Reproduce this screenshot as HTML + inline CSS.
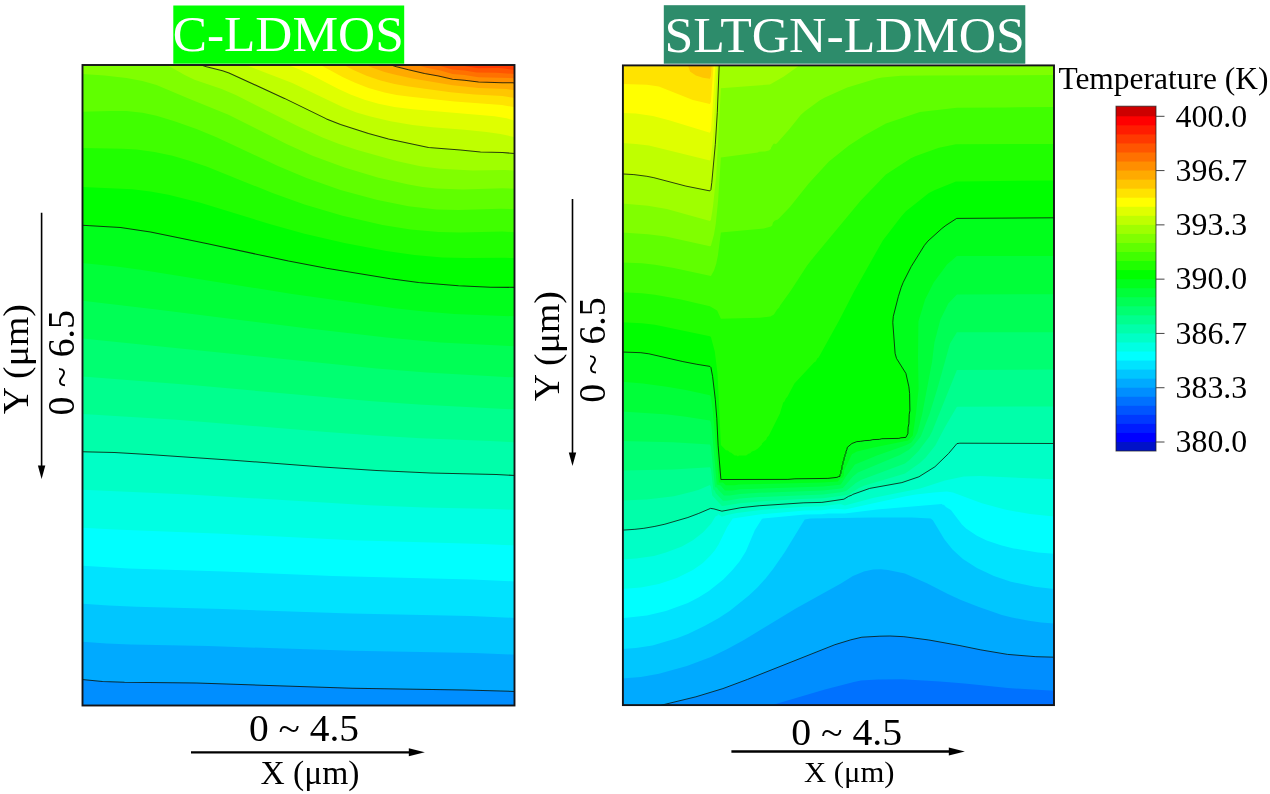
<!DOCTYPE html>
<html><head><meta charset="utf-8"><title>Temperature distribution</title>
<style>html,body{margin:0;padding:0;background:#fff}svg{display:block}</style></head>
<body>
<svg width="1270" height="794" viewBox="0 0 1270 794">
<defs>
<clipPath id="clipL"><rect x="82.5" y="65" width="432" height="640.5"/></clipPath>
<clipPath id="clipR"><rect x="622.9" y="65.4" width="431.1" height="639.7"/></clipPath>
</defs>
<rect width="1270" height="794" fill="#fff"/>
<rect x="173.3" y="5.5" width="230.9" height="58.2" fill="#00ff00"/>
<text x="172.7" y="51.3" font-size="51" fill="#fff" textLength="231" lengthAdjust="spacingAndGlyphs" font-family="'Liberation Serif',serif">C-LDMOS</text>
<rect x="663.8" y="5.2" width="361.5" height="58.5" fill="#2d8c6b"/>
<text x="664.5" y="51.5" font-size="51" fill="#fff" textLength="360.3" lengthAdjust="spacingAndGlyphs" font-family="'Liberation Serif',serif">SLTGN-LDMOS</text>
<g clip-path="url(#clipL)">
<rect x="81.5" y="64" width="434" height="642.5" fill="#ff1c00"/>
<path fill-rule="evenodd" d="M82.5 63.0L516.5 63.3L516.5 707.0L80.5 707.0L80.5 63.0Z" fill="#ff3900"/>
<path fill-rule="evenodd" d="M82.5 63.0L446.4 63.0L453.2 65.0L464.5 66.0L478.5 68.3L498.5 68.1L506.5 68.8L514.5 70.3L516.5 70.1L516.5 707.0L80.5 707.0L80.5 63.0Z" fill="#ff5500"/>
<path fill-rule="evenodd" d="M82.5 63.0L429.4 63.0L452.5 69.4L464.5 70.4L476.5 72.5L496.5 72.8L516.5 74.1L516.5 707.0L80.5 707.0L80.5 63.0Z" fill="#ff7100"/>
<path fill-rule="evenodd" d="M82.5 63.0L410.2 63.0L426.5 67.8L440.5 70.6L452.5 74.0L464.5 74.9L478.5 77.2L516.5 78.2L516.5 707.0L80.5 707.0L80.5 63.0Z" fill="#ff8e00"/>
<path fill-rule="evenodd" d="M82.5 63.0L385.1 63.0L408.5 69.8L452.5 79.2L478.5 82.1L516.5 83.2L516.5 707.0L80.5 707.0L80.5 63.0Z" fill="#ffaa00"/>
<path fill-rule="evenodd" d="M82.5 63.0L361.6 63.0L372.5 67.7L384.5 71.9L396.5 75.1L412.5 78.4L452.5 85.2L478.5 87.9L506.5 89.0L516.5 90.5L516.5 707.0L80.5 707.0L80.5 63.0Z" fill="#ffc600"/>
<path fill-rule="evenodd" d="M82.5 63.0L340.0 63.0L354.5 70.6L366.5 75.8L380.5 80.6L394.5 84.0L408.5 86.4L450.5 92.2L474.5 94.4L502.5 96.1L516.5 98.2L516.5 707.0L80.5 707.0L80.5 63.0Z" fill="#ffe300"/>
<path fill-rule="evenodd" d="M82.5 63.0L316.8 63.0L342.5 76.9L354.5 82.6L368.5 88.1L384.5 92.5L396.5 94.9L410.5 96.8L454.5 101.5L501.9 105.0L516.5 107.5L516.5 707.0L80.5 707.0L80.5 63.0Z" fill="#ffff00"/>
<path fill-rule="evenodd" d="M82.5 63.0L282.4 63.0L296.5 68.3L310.5 74.4L338.5 89.0L350.5 94.5L364.5 99.8L378.5 103.7L394.5 106.9L412.5 109.3L494.5 116.3L506.5 118.3L516.5 121.1L516.5 707.0L80.5 707.0L80.5 63.0Z" fill="#dfff00"/>
<path fill-rule="evenodd" d="M82.5 63.0L240.6 63.0L292.3 83.0L342.5 107.1L356.5 112.4L370.5 116.6L390.5 121.3L412.5 124.9L432.5 127.3L464.5 129.7L486.5 131.9L500.5 134.1L516.5 137.5L516.5 707.0L80.5 707.0L80.5 63.0Z" fill="#bfff00"/>
<path fill-rule="evenodd" d="M82.5 63.0L197.0 63.0L204.5 66.1L228.5 72.8L273.0 93.0L330.5 120.6L348.5 127.4L370.5 134.2L394.5 140.2L430.5 147.7L458.5 149.7L480.5 151.9L500.5 152.4L516.5 153.7L516.5 707.0L80.5 707.0L80.5 63.0Z" fill="#9fff00"/>
<path fill-rule="evenodd" d="M82.5 63.0L162.3 63.0L168.5 65.8L184.7 75.0L194.5 79.8L221.7 89.0L235.8 95.0L298.5 126.5L322.5 137.6L338.5 143.7L356.5 149.8L396.5 161.0L420.5 166.2L440.5 168.8L472.5 170.4L504.5 170.0L516.5 170.5L516.5 707.0L80.5 707.0L80.5 63.0Z" fill="#80ff00"/>
<path fill-rule="evenodd" d="M82.5 74.0L104.5 75.5L126.5 78.0L142.5 80.9L156.5 84.9L188.5 98.6L228.5 114.7L286.5 143.9L312.5 155.7L344.5 167.6L378.5 177.7L408.5 184.6L422.5 186.9L436.5 188.4L462.5 189.5L502.5 188.3L516.5 188.7L516.5 707.0L80.5 707.0L80.5 73.8Z" fill="#60ff00"/>
<path fill-rule="evenodd" d="M110.5 111.0L126.5 111.1L142.5 112.8L156.5 115.7L174.5 121.2L196.5 129.1L216.5 137.2L278.5 166.2L306.5 178.0L340.5 189.9L376.5 199.8L408.5 206.3L436.5 209.4L458.5 210.0L500.5 208.7L516.5 209.2L516.5 707.0L80.5 707.0L80.5 111.9Z" fill="#40ff00"/>
<path fill-rule="evenodd" d="M82.5 148.0L122.5 148.8L136.5 149.5L154.5 151.9L172.5 155.8L188.5 160.4L206.5 166.6L272.5 193.0L304.5 204.5L342.5 215.8L382.5 225.0L410.5 229.6L438.5 232.1L460.5 232.6L502.5 231.6L516.5 232.2L516.5 707.0L80.5 707.0L80.5 147.9Z" fill="#20ff00"/>
<path fill-rule="evenodd" d="M82.5 187.0L132.5 189.2L150.5 191.4L168.5 194.7L200.5 202.8L270.5 224.2L304.5 233.7L344.5 243.1L386.5 251.1L414.5 255.0L442.5 257.4L466.5 258.1L504.5 257.8L516.5 258.1L516.5 707.0L80.5 707.0L80.5 186.9Z" fill="#00ff00"/>
<path fill-rule="evenodd" d="M82.5 225.3L116.5 227.2L144.5 231.1L172.5 236.4L298.5 263.1L338.5 270.4L392.5 279.1L422.5 282.8L454.5 285.5L490.5 287.2L516.5 287.4L516.5 707.0L80.5 707.0L80.5 225.1Z" fill="#00ff1c"/>
<path fill-rule="evenodd" d="M81.9 263.0L116.5 266.6L140.5 269.7L290.5 293.7L394.5 308.2L424.5 311.5L454.5 313.9L516.5 316.4L516.5 707.0L80.5 707.0L80.5 262.9Z" fill="#00ff39"/>
<path fill-rule="evenodd" d="M82.5 300.8L154.5 309.3L304.5 328.1L386.5 337.6L440.5 342.4L516.5 346.4L516.5 707.0L80.5 707.0L80.5 300.6Z" fill="#00ff55"/>
<path fill-rule="evenodd" d="M82.5 338.6L376.5 368.5L426.5 372.4L516.5 377.5L516.5 707.0L80.5 707.0L80.5 338.4Z" fill="#00ff71"/>
<path fill-rule="evenodd" d="M82.5 376.4L194.5 385.3L372.5 401.3L418.5 404.4L516.5 409.5L516.5 707.0L80.5 707.0L80.5 376.2Z" fill="#00ff8e"/>
<path fill-rule="evenodd" d="M82.5 414.1L176.5 419.7L326.5 432.1L374.5 435.6L420.5 438.2L490.5 440.9L516.5 442.4L516.5 707.0L80.5 707.0L80.5 414.0Z" fill="#00ffaa"/>
<path fill-rule="evenodd" d="M82.5 451.9L118.5 452.7L154.5 454.8L242.5 460.8L326.5 467.4L378.5 470.6L440.5 473.4L516.5 475.5L516.5 707.0L80.5 707.0L80.5 451.8Z" fill="#00ffc6"/>
<path fill-rule="evenodd" d="M82.5 489.8L188.5 494.4L368.5 505.2L424.5 507.4L494.5 509.0L516.5 510.0L516.5 707.0L80.5 707.0L80.5 489.7Z" fill="#00ffe3"/>
<path fill-rule="evenodd" d="M82.5 527.8L114.5 529.6L222.5 533.8L352.5 540.3L482.5 543.9L516.5 545.5L516.5 707.0L80.5 707.0L80.5 527.6Z" fill="#00ffff"/>
<path fill-rule="evenodd" d="M82.5 565.7L128.5 568.5L224.5 571.6L332.5 575.9L472.5 579.5L516.5 581.5L516.5 707.0L80.5 707.0L80.5 565.6Z" fill="#00e3ff"/>
<path fill-rule="evenodd" d="M82.5 603.7L108.5 605.6L136.5 606.8L222.5 609.1L350.5 613.4L470.5 615.9L516.5 618.0L516.5 707.0L80.5 707.0L80.5 603.5Z" fill="#00c6ff"/>
<path fill-rule="evenodd" d="M82.5 641.7L106.5 643.5L130.5 644.6L208.5 646.1L352.5 650.8L474.5 653.0L516.5 654.7L516.5 707.0L80.5 707.0L80.5 641.5Z" fill="#00aaff"/>
<path fill-rule="evenodd" d="M82.5 679.6L102.5 681.4L124.5 682.3L190.5 682.8L342.5 688.0L474.5 690.2L516.5 691.5L516.5 707.0L80.5 707.0L80.5 679.4Z" fill="#008eff"/>
<path d="M516.5 691.5L464.5 690.0L352.5 688.3L196.5 683.0L124.5 682.3L102.5 681.4L80.5 679.4" fill="none" stroke="#0a140a" stroke-opacity="0.82" stroke-width="1.05" stroke-linejoin="round"/>
<path d="M516.5 475.5L496.5 474.6L430.5 473.0L376.5 470.5L322.5 467.1L236.5 460.4L148.5 454.4L114.5 452.6L80.5 451.8" fill="none" stroke="#0a140a" stroke-opacity="0.82" stroke-width="1.05" stroke-linejoin="round"/>
<path d="M516.5 287.4L490.5 287.2L458.5 285.7L418.5 282.4L390.5 278.8L326.5 268.3L288.5 261.1L206.5 243.5L150.5 232.1L120.5 227.6L80.5 225.1" fill="none" stroke="#0a140a" stroke-opacity="0.82" stroke-width="1.05" stroke-linejoin="round"/>
<path d="M516.5 153.7L502.5 152.5L480.5 151.9L460.5 149.9L428.5 147.4L388.5 138.9L368.5 133.6L340.5 124.5L326.5 118.9L284.5 98.4L229.0 73.0L222.5 70.8L206.5 66.7L200.5 64.7L197.0 63.0" fill="none" stroke="#0a140a" stroke-opacity="0.82" stroke-width="1.05" stroke-linejoin="round"/>
<path d="M516.5 83.2L512.5 82.7L502.5 82.8L478.5 82.1L464.5 80.3L452.5 79.2L438.5 75.9L424.5 73.5L408.5 69.8L396.5 66.7L385.1 63.0" fill="none" stroke="#0a140a" stroke-opacity="0.82" stroke-width="1.05" stroke-linejoin="round"/>
</g>
<rect x="82.5" y="65" width="432" height="640.5" fill="none" stroke="#141418" stroke-width="1.9"/>
<g clip-path="url(#clipR)">
<rect x="621.9" y="64.4" width="433.1" height="641.7" fill="#ffc600"/>
<path fill-rule="evenodd" d="M622.9 64.4L684.3 64.4L688.0 65.4L690.0 71.4L695.9 75.4L702.9 77.8L709.9 78.8L710.9 76.1L711.6 65.4L707.5 64.4L1054.9 64.4L1054.9 705.4L621.9 705.4L621.9 64.4Z" fill="#ffe300"/>
<path fill-rule="evenodd" d="M711.9 64.4L1054.9 64.4L1054.9 705.4L621.9 705.4L621.9 83.9L646.9 84.8L658.9 86.4L692.9 100.1L709.9 103.9L710.9 101.8L713.5 65.4Z" fill="#ffff00"/>
<path fill-rule="evenodd" d="M715.9 64.4L1054.9 64.4L1054.9 705.4L621.9 705.4L621.9 113.0L635.9 113.6L652.9 115.9L669.9 120.5L709.9 132.8L710.9 130.8L711.3 126.4L715.4 65.4Z" fill="#dfff00"/>
<path fill-rule="evenodd" d="M717.9 65.0L719.6 64.4L1054.9 64.4L1054.9 705.4L621.9 705.4L621.9 143.1L635.9 144.0L648.9 145.6L709.9 160.6L710.9 159.1L713.3 134.4L717.2 66.4Z" fill="#bfff00"/>
<path fill-rule="evenodd" d="M719.9 65.1L723.7 64.4L1054.9 64.4L1054.9 705.4L621.9 705.4L621.9 173.9L635.9 174.8L648.9 176.6L686.9 186.3L709.9 190.9L710.9 189.5L711.8 182.4L714.8 151.4L717.3 111.4L719.2 65.4Z" fill="#9fff00"/>
<path fill-rule="evenodd" d="M799.9 64.4L1054.9 64.4L1054.9 705.4L621.9 705.4L621.9 203.6L647.9 205.8L666.9 208.9L709.9 220.9L710.9 220.0L713.0 206.4L716.2 175.4L720.9 88.2L769.9 84.5L783.9 76.4L797.9 66.4Z" fill="#80ff00"/>
<path fill-rule="evenodd" d="M928.9 75.4L1054.9 75.1L1054.9 705.4L621.9 705.4L621.9 232.5L647.9 234.3L665.9 236.4L709.9 246.2L710.9 245.8L714.0 234.4L715.8 223.4L718.1 200.4L720.9 157.5L757.9 152.4L758.9 151.7L764.9 151.5L768.9 150.5L770.9 149.1L771.1 147.4L773.0 144.4L773.9 143.6L775.9 144.0L776.9 143.2L789.1 129.4L800.9 114.8L804.9 111.3L819.9 100.3L824.9 97.5L847.2 87.4L876.9 78.4L882.2 77.4L900.9 75.8Z" fill="#60ff00"/>
<path fill-rule="evenodd" d="M1005.9 107.4L1054.9 107.1L1054.9 705.4L621.9 705.4L621.9 262.4L641.9 263.3L654.9 264.7L673.9 268.1L710.9 276.1L714.0 270.4L716.3 263.4L717.9 255.4L720.9 232.5L763.9 228.5L770.9 226.6L772.2 225.4L773.0 222.4L774.9 220.5L777.9 219.6L789.9 207.0L808.9 183.2L828.9 161.4L848.9 145.4L863.9 135.8L885.9 123.6L919.9 112.1L956.9 107.8Z" fill="#40ff00"/>
<path fill-rule="evenodd" d="M955.9 144.2L1054.9 143.9L1054.9 705.4L621.9 705.4L621.9 292.3L641.9 293.2L654.9 294.7L679.9 299.3L709.9 306.3L717.1 310.4L720.9 318.7L759.9 317.8L770.4 316.4L773.9 314.5L777.1 309.4L779.2 307.4L780.1 305.4L790.9 290.6L807.1 265.4L811.0 260.4L860.8 200.4L885.9 174.5L910.9 158.3L915.9 156.0L938.9 147.8Z" fill="#20ff00"/>
<path fill-rule="evenodd" d="M959.9 181.4L1054.9 180.5L1054.9 705.4L621.9 705.4L621.9 322.3L641.9 323.2L654.9 324.8L709.9 336.3L710.9 337.1L714.8 351.4L717.6 374.4L720.9 445.0L725.9 450.3L727.9 450.5L729.9 452.5L730.9 452.5L734.7 455.4L736.9 455.5L737.9 456.4L738.9 455.4L746.1 455.4L748.9 453.4L749.9 453.4L751.9 451.5L754.9 450.4L757.9 448.4L761.9 444.4L761.9 443.4L766.3 439.4L767.0 437.4L768.9 435.6L779.9 413.5L783.2 402.4L784.5 401.4L785.8 398.4L787.5 396.4L794.4 383.4L814.0 362.4L815.9 361.2L817.2 358.4L818.6 357.4L839.1 320.4L853.5 292.4L882.8 240.4L901.2 216.4L905.9 211.3L928.9 192.9L934.9 189.9L955.9 181.5Z" fill="#00ff00"/>
<path fill-rule="evenodd" d="M956.9 218.3L1054.9 217.8L1054.9 705.4L621.9 705.4L621.9 352.0L635.9 352.4L647.9 353.6L686.7 362.4L709.9 366.4L710.9 367.5L713.5 383.4L715.3 399.4L718.2 447.4L720.9 479.5L788.1 479.4L798.9 478.7L828.0 478.4L837.1 477.4L839.9 476.4L840.1 474.4L840.9 473.4L841.0 470.4L841.9 469.4L843.1 461.4L843.9 460.4L844.2 457.4L845.9 453.4L847.3 447.4L851.9 443.5L856.9 441.6L863.9 440.6L881.9 438.7L898.9 438.4L905.9 437.4L907.9 433.7L909.9 410.6L909.6 392.4L908.9 386.8L905.9 373.4L896.5 358.4L895.1 353.4L892.8 322.4L893.3 316.4L895.4 307.4L899.3 293.4L903.2 282.4L912.4 264.4L924.4 245.4L928.5 240.4L941.9 228.5Z" fill="#00ff1c"/>
<path fill-rule="evenodd" d="M956.9 256.1L1054.9 256.0L1054.9 705.4L621.9 705.4L621.9 381.7L642.9 383.6L666.9 386.8L685.9 390.1L709.9 395.2L710.9 396.7L713.0 412.4L718.9 482.5L722.9 482.5L725.9 485.2L734.9 485.2L738.9 484.6L822.9 482.5L837.9 481.4L839.9 478.7L842.5 477.4L843.9 475.4L844.0 470.4L851.9 454.3L856.9 451.6L873.6 447.4L908.1 440.4L912.8 435.4L916.2 411.4L918.6 388.4L918.0 357.4L918.4 321.4L925.1 299.4L933.7 282.4L947.0 264.4Z" fill="#00ff39"/>
<path fill-rule="evenodd" d="M956.9 294.4L1054.9 294.3L1054.9 705.4L621.9 705.4L621.9 411.4L667.9 414.5L685.9 416.7L709.9 420.5L710.9 422.2L711.7 428.4L716.8 484.4L720.7 485.4L724.9 490.4L732.9 490.4L739.9 489.2L822.9 486.5L839.9 484.8L840.9 484.2L845.9 476.4L854.9 464.6L876.9 455.6L905.9 445.3L911.3 442.4L914.8 437.4L917.4 432.4L922.1 414.4L932.1 361.4L934.4 342.4L940.4 319.4L948.3 303.4Z" fill="#00ff55"/>
<path fill-rule="evenodd" d="M956.9 332.3L1054.9 332.2L1054.9 705.4L621.9 705.4L621.9 441.0L672.9 442.3L709.9 444.5L710.9 446.5L714.9 486.4L715.9 487.4L717.0 487.4L718.0 489.4L723.9 495.6L729.9 495.6L739.9 493.9L758.9 492.8L822.9 490.5L838.9 488.8L842.9 487.9L852.9 476.6L857.9 472.4L899.9 455.0L908.9 449.7L913.6 445.4L920.8 436.4L929.7 413.4L937.4 388.4L950.0 343.4Z" fill="#00ff71"/>
<path fill-rule="evenodd" d="M956.9 369.9L1054.9 369.6L1054.9 705.4L621.9 705.4L621.9 470.6L672.9 469.5L709.9 467.2L710.9 468.8L713.3 489.4L714.8 490.4L715.9 493.3L722.9 500.8L726.9 500.8L739.9 498.5L758.9 497.1L822.9 494.4L840.9 492.3L844.9 491.3L846.7 490.4L855.9 482.9L860.9 480.0L905.0 463.4L910.0 459.4L918.1 451.4L929.5 436.4L932.1 431.4Z" fill="#00ff8e"/>
<path fill-rule="evenodd" d="M956.9 406.7L1054.9 406.5L1054.9 705.4L621.9 705.4L621.9 500.5L646.5 499.4L673.9 496.2L692.9 491.6L698.9 489.7L709.9 485.0L710.9 486.8L712.3 495.4L721.9 505.9L722.9 506.1L739.9 503.2L759.9 501.4L800.9 499.0L822.9 498.3L846.9 495.1L848.9 494.4L858.9 487.9L863.9 485.8L905.1 473.4L919.9 463.0L925.7 457.4L935.3 445.4L944.9 427.2Z" fill="#00ffaa"/>
<path fill-rule="evenodd" d="M957.9 443.4L1054.9 443.5L1054.9 705.4L621.9 705.4L621.9 530.2L646.9 527.9L664.9 524.2L687.9 517.5L710.9 508.3L721.9 511.2L740.9 507.7L759.9 505.7L800.9 502.9L822.9 502.3L842.9 499.5L852.9 494.4L869.7 488.4L900.9 482.8L918.9 476.8L934.9 466.8L947.8 454.4L955.9 444.4Z" fill="#00ffc6"/>
<path fill-rule="evenodd" d="M963.9 476.4L979.9 476.1L1054.9 479.4L1054.9 705.4L621.9 705.4L621.9 559.5L635.9 558.6L653.9 555.9L665.9 552.6L681.9 546.4L692.9 540.3L702.9 532.6L711.2 523.4L715.4 516.4L717.7 515.4L717.9 514.1L721.9 516.7L726.9 514.9L736.9 513.1L760.9 509.9L804.9 506.7L821.9 506.3L837.9 504.2L840.9 504.3L844.9 505.5L873.9 497.8L920.2 488.4L944.9 480.6Z" fill="#00ffe3"/>
<path fill-rule="evenodd" d="M933.9 492.4L946.9 491.6L952.9 492.5L981.9 503.2L1004.9 509.6L1029.9 514.1L1054.9 516.6L1054.9 705.4L621.9 705.4L621.9 588.9L640.9 587.4L658.9 583.9L676.9 577.9L692.9 570.0L702.9 563.0L710.9 555.1L714.7 550.4L718.6 544.4L726.9 527.4L732.7 518.4L760.9 514.3L790.9 511.7L804.9 510.6L821.9 510.3L833.9 508.8L844.9 509.5L904.4 496.4L915.9 494.4Z" fill="#00ffff"/>
<path fill-rule="evenodd" d="M935.9 504.4L941.9 504.1L942.9 505.0L943.9 504.8L945.9 507.1L950.9 509.9L961.9 524.6L966.1 528.4L976.9 535.8L986.7 540.4L1000.9 545.3L1013.6 548.4L1037.9 552.4L1054.9 553.7L1054.9 705.4L621.9 705.4L621.9 618.3L646.9 615.5L665.9 611.0L687.9 602.9L698.9 597.3L708.9 591.1L723.3 579.4L732.0 570.4L739.5 561.4L745.8 551.4L754.9 529.9L761.9 519.1L763.0 518.4L804.9 514.6L821.9 514.2L827.9 513.5L844.9 513.5L877.0 509.4Z" fill="#00e3ff"/>
<path fill-rule="evenodd" d="M872.9 517.4L911.9 517.4L930.7 518.4L932.9 520.3L944.5 539.4L952.5 549.4L962.9 559.0L976.9 568.1L993.9 576.0L1010.9 581.7L1034.9 586.7L1054.9 589.0L1054.9 705.4L621.9 705.4L621.9 649.0L635.9 647.9L652.4 645.4L676.9 638.2L687.9 634.0L704.9 625.8L718.9 617.9L729.9 610.7L748.9 595.5L757.4 587.4L765.6 578.4L773.4 568.4L784.5 552.4L804.7 519.4L810.3 518.4Z" fill="#00c6ff"/>
<path fill-rule="evenodd" d="M872.9 569.4L880.9 569.2L887.9 570.0L904.9 573.6L927.4 583.4L947.9 594.0L960.9 599.9L978.9 607.1L1001.9 614.9L1011.9 617.5L1028.9 620.7L1040.9 622.5L1054.9 623.6L1054.9 705.4L621.9 705.4L621.9 678.4L640.9 676.9L658.9 673.8L686.9 666.0L710.9 656.9L726.9 649.2L743.9 639.9L795.8 608.4L840.9 583.4L852.9 576.1L863.9 571.4Z" fill="#00aaff"/>
<path fill-rule="evenodd" d="M874.9 636.4L891.9 636.0L903.9 636.7L933.9 640.8L982.9 650.3L1005.9 654.2L1031.4 656.4L1054.9 657.2L1054.9 705.4L660.5 705.4L697.4 696.4L726.5 687.4L839.9 643.0L861.9 637.2Z" fill="#008eff"/>
<path fill-rule="evenodd" d="M877.9 679.4L901.9 679.3L939.9 681.4L964.5 683.4L1007.9 688.1L1054.9 690.9L1054.9 705.4L772.6 705.4L774.0 704.4L824.9 689.4L853.9 682.1L860.9 680.6Z" fill="#0071ff"/>
<path d="M1054.9 657.2L1035.9 656.7L1007.6 654.4L980.9 649.9L959.9 645.6L928.9 640.0L903.9 636.7L889.9 636.0L879.9 636.2L861.9 637.2L850.9 639.8L834.9 644.7L747.5 679.4L722.9 688.6L695.9 696.8L660.5 705.4" fill="none" stroke="#0a140a" stroke-opacity="0.8" stroke-width="1" stroke-linejoin="round"/>
<path d="M1054.9 443.5L959.9 443.2L956.9 443.6L948.7 453.4L934.9 466.8L918.9 476.8L901.9 482.6L869.7 488.4L852.8 494.4L851.9 495.1L848.5 496.4L843.9 499.2L821.9 502.4L803.9 502.8L759.9 505.7L740.9 507.7L721.9 511.2L713.9 508.9L710.5 508.4L698.8 513.4L687.9 517.5L664.9 524.2L654.9 526.4L643.9 528.3L634.9 529.3L621.9 530.2" fill="none" stroke="#0a140a" stroke-opacity="0.8" stroke-width="1" stroke-linejoin="round"/>
<path d="M1054.9 217.8L956.7 218.4L945.9 225.4L941.9 228.5L927.9 241.1L924.4 245.4L911.3 266.4L903.2 282.4L901.2 287.4L898.4 296.4L893.3 316.4L892.8 322.4L895.1 353.4L896.5 358.4L905.9 373.4L908.9 386.8L909.6 393.4L909.9 410.6L909.2 414.4L908.9 423.6L908.1 427.4L907.9 433.7L905.9 437.4L900.9 437.8L898.9 438.4L881.9 438.7L879.3 439.4L872.9 439.6L869.9 440.4L864.9 440.6L860.3 441.4L856.9 441.6L851.9 443.5L847.3 447.4L846.9 449.6L846.0 451.4L845.9 453.4L845.1 454.4L844.9 456.5L844.2 457.4L843.9 460.4L843.1 461.4L842.9 464.4L842.1 465.4L842.0 466.4L841.9 469.4L841.0 470.4L840.9 473.4L840.1 474.4L839.9 476.4L838.9 476.5L836.9 477.4L827.9 478.4L794.9 478.8L787.9 479.4L720.9 479.5L718.1 445.4L716.8 418.4L715.3 399.4L712.6 376.4L710.9 367.5L709.9 366.4L696.9 364.3L682.9 361.6L648.9 353.8L640.9 352.7L621.9 352.0" fill="none" stroke="#0a140a" stroke-opacity="0.8" stroke-width="1" stroke-linejoin="round"/>
<path d="M723.7 64.4L719.2 65.4L717.3 112.4L715.3 144.4L711.8 182.4L710.9 189.5L709.9 190.9L685.9 186.1L653.9 177.7L646.9 176.3L633.9 174.6L621.9 173.9" fill="none" stroke="#0a140a" stroke-opacity="0.8" stroke-width="1" stroke-linejoin="round"/>
</g>
<rect x="622.9" y="65.4" width="431.1" height="639.7" fill="none" stroke="#141418" stroke-width="1.9"/>
<line x1="41.6" y1="212.8" x2="41.6" y2="469" stroke="#000" stroke-width="1.6"/>
<path d="M41.6 479L37.9 465.5L45.3 465.5Z" fill="#000"/>
<text transform="translate(27.9 359.2) rotate(-90) scale(1.05,1)" text-anchor="middle" font-size="36" font-family="'Liberation Serif',serif">Y (μm)</text>
<text transform="translate(74.1 362.8) rotate(-90) scale(1.0,1)" text-anchor="middle" font-size="37.8" font-family="'Liberation Serif',serif">0 ~ 6.5</text>
<line x1="572.5" y1="199.1" x2="572.5" y2="456" stroke="#000" stroke-width="1.6"/>
<path d="M572.5 466L568.8 452.5L576.2 452.5Z" fill="#000"/>
<text transform="translate(559 346.2) rotate(-90) scale(1.05,1)" text-anchor="middle" font-size="36" font-family="'Liberation Serif',serif">Y (μm)</text>
<text transform="translate(604.7 350.1) rotate(-90) scale(1.0,1)" text-anchor="middle" font-size="37.8" font-family="'Liberation Serif',serif">0 ~ 6.5</text>
<line x1="191" y1="752.3" x2="414.8" y2="752.3" stroke="#000" stroke-width="2.3"/>
<path d="M424.8 752.3L408.8 748.3L408.8 756.3Z" fill="#000"/>
<text x="304" y="740.8" text-anchor="middle" font-size="37" textLength="110" lengthAdjust="spacingAndGlyphs" font-family="'Liberation Serif',serif">0 ~ 4.5</text>
<text x="310" y="784.2" text-anchor="middle" font-size="33" textLength="99" lengthAdjust="spacingAndGlyphs" font-family="'Liberation Serif',serif">X (μm)</text>
<line x1="731.4" y1="751.5" x2="954.8" y2="751.5" stroke="#000" stroke-width="2.3"/>
<path d="M964.8 751.5L948.8 747.5L948.8 755.5Z" fill="#000"/>
<text x="846.7" y="745.2" text-anchor="middle" font-size="37" textLength="111" lengthAdjust="spacingAndGlyphs" font-family="'Liberation Serif',serif">0 ~ 4.5</text>
<text x="849.3" y="782" text-anchor="middle" font-size="30" textLength="90.5" lengthAdjust="spacingAndGlyphs" font-family="'Liberation Serif',serif">X (μm)</text>
<rect x="1116" y="106.2" width="40" height="344.8" fill="#cd0000"/>
<rect x="1116" y="116.30" width="40" height="334.70" fill="#ff0000"/>
<rect x="1116" y="125.35" width="40" height="325.65" fill="#ff1c00"/>
<rect x="1116" y="134.39" width="40" height="316.61" fill="#ff3900"/>
<rect x="1116" y="143.44" width="40" height="307.56" fill="#ff5500"/>
<rect x="1116" y="152.49" width="40" height="298.51" fill="#ff7100"/>
<rect x="1116" y="161.54" width="40" height="289.46" fill="#ff8e00"/>
<rect x="1116" y="170.58" width="40" height="280.42" fill="#ffaa00"/>
<rect x="1116" y="179.63" width="40" height="271.37" fill="#ffc600"/>
<rect x="1116" y="188.68" width="40" height="262.32" fill="#ffe300"/>
<rect x="1116" y="197.72" width="40" height="253.28" fill="#ffff00"/>
<rect x="1116" y="206.77" width="40" height="244.23" fill="#dfff00"/>
<rect x="1116" y="215.82" width="40" height="235.18" fill="#bfff00"/>
<rect x="1116" y="224.87" width="40" height="226.13" fill="#9fff00"/>
<rect x="1116" y="233.91" width="40" height="217.09" fill="#80ff00"/>
<rect x="1116" y="242.96" width="40" height="208.04" fill="#60ff00"/>
<rect x="1116" y="252.01" width="40" height="198.99" fill="#40ff00"/>
<rect x="1116" y="261.06" width="40" height="189.94" fill="#20ff00"/>
<rect x="1116" y="270.10" width="40" height="180.90" fill="#00ff00"/>
<rect x="1116" y="279.15" width="40" height="171.85" fill="#00ff1c"/>
<rect x="1116" y="288.20" width="40" height="162.80" fill="#00ff39"/>
<rect x="1116" y="297.24" width="40" height="153.76" fill="#00ff55"/>
<rect x="1116" y="306.29" width="40" height="144.71" fill="#00ff71"/>
<rect x="1116" y="315.34" width="40" height="135.66" fill="#00ff8e"/>
<rect x="1116" y="324.39" width="40" height="126.61" fill="#00ffaa"/>
<rect x="1116" y="333.43" width="40" height="117.57" fill="#00ffc6"/>
<rect x="1116" y="342.48" width="40" height="108.52" fill="#00ffe3"/>
<rect x="1116" y="351.53" width="40" height="99.47" fill="#00ffff"/>
<rect x="1116" y="360.57" width="40" height="90.43" fill="#00e3ff"/>
<rect x="1116" y="369.62" width="40" height="81.38" fill="#00c6ff"/>
<rect x="1116" y="378.67" width="40" height="72.33" fill="#00aaff"/>
<rect x="1116" y="387.72" width="40" height="63.28" fill="#008eff"/>
<rect x="1116" y="396.76" width="40" height="54.24" fill="#0071ff"/>
<rect x="1116" y="405.81" width="40" height="45.19" fill="#0055ff"/>
<rect x="1116" y="414.86" width="40" height="36.14" fill="#0039ff"/>
<rect x="1116" y="423.91" width="40" height="27.09" fill="#001cff"/>
<rect x="1116" y="432.95" width="40" height="18.05" fill="#0000ff"/>
<rect x="1116" y="442.00" width="40" height="9.00" fill="#0012c8"/>
<rect x="1116" y="106.2" width="40" height="344.8" fill="none" stroke="#222" stroke-opacity="0.75" stroke-width="1"/>
<line x1="1156" y1="116.30" x2="1164.5" y2="116.30" stroke="#444" stroke-width="1"/>
<text x="1175.6" y="126.6" font-size="31.2" textLength="71.6" lengthAdjust="spacingAndGlyphs" font-family="'Liberation Serif',serif">400.0</text>
<line x1="1156" y1="170.58" x2="1164.5" y2="170.58" stroke="#444" stroke-width="1"/>
<text x="1175.6" y="180.9" font-size="31.2" textLength="71.6" lengthAdjust="spacingAndGlyphs" font-family="'Liberation Serif',serif">396.7</text>
<line x1="1156" y1="224.87" x2="1164.5" y2="224.87" stroke="#444" stroke-width="1"/>
<text x="1175.6" y="235.2" font-size="31.2" textLength="71.6" lengthAdjust="spacingAndGlyphs" font-family="'Liberation Serif',serif">393.3</text>
<line x1="1156" y1="279.15" x2="1164.5" y2="279.15" stroke="#444" stroke-width="1"/>
<text x="1175.6" y="289.4" font-size="31.2" textLength="71.6" lengthAdjust="spacingAndGlyphs" font-family="'Liberation Serif',serif">390.0</text>
<line x1="1156" y1="333.43" x2="1164.5" y2="333.43" stroke="#444" stroke-width="1"/>
<text x="1175.6" y="343.7" font-size="31.2" textLength="71.6" lengthAdjust="spacingAndGlyphs" font-family="'Liberation Serif',serif">386.7</text>
<line x1="1156" y1="387.72" x2="1164.5" y2="387.72" stroke="#444" stroke-width="1"/>
<text x="1175.6" y="398.0" font-size="31.2" textLength="71.6" lengthAdjust="spacingAndGlyphs" font-family="'Liberation Serif',serif">383.3</text>
<line x1="1156" y1="442.00" x2="1164.5" y2="442.00" stroke="#444" stroke-width="1"/>
<text x="1175.6" y="452.3" font-size="31.2" textLength="71.6" lengthAdjust="spacingAndGlyphs" font-family="'Liberation Serif',serif">380.0</text>
<text x="1058.4" y="88.6" font-size="30.9" textLength="210" lengthAdjust="spacingAndGlyphs" font-family="'Liberation Serif',serif">Temperature (K)</text>
</svg>
</body></html>
